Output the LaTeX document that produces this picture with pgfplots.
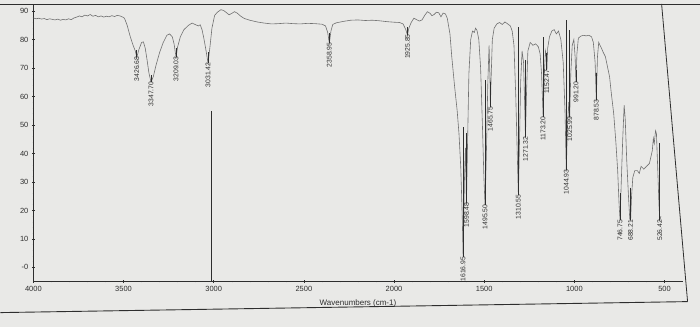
\documentclass[border=0pt]{standalone}
\usepackage{fontspec}
\setmainfont{Liberation Sans}
\usepackage{pgfplots}
\pgfplotsset{compat=1.18}
\definecolor{paper}{HTML}{E9E9E7}
\definecolor{curve}{HTML}{707070}
\definecolor{ink}{HTML}{2E2E2E}
\newcommand{\pk}[3]{%
  \addplot[ink, line width=0.8pt, forget plot] coordinates {(#1,#2) (#1,#3)};
  \node[rotate=90, anchor=east, font=\fontsize{6.8}{8}\selectfont, text=ink, inner sep=1.2pt, xshift=2pt] at (axis cs:#1,#3) {#1};
}
\begin{document}
\begin{tikzpicture}
\begin{axis}[
  set layers,
  scale only axis,
  width=650pt, height=278pt,
  xmin=400, xmax=4000, x dir=reverse,
  ymin=-5, ymax=92.5,
  clip=false,
  axis x line*=bottom, axis y line*=left,
  axis line style={ink, line width=0.6pt, -},
  xtick={4000,3500,3000,2500,2000,1500,1000,500},
  minor x tick num=4,
  ytick={0,10,20,30,40,50,60,70,80,90},
  yticklabels={-0,10,20,30,40,50,60,70,80,90},
  minor y tick num=4,
  tick style={ink, line width=0.5pt},
  major tick length=3pt, minor tick length=1.5pt,
  tick align=center,
  ticklabel style={font=\fontsize{7.5}{9}\selectfont, text=ink},
  /pgf/number format/assume math mode=true,
  /pgf/number format/1000 sep={},
  xlabel={Wavenumbers (cm-1)},
  xlabel style={font=\fontsize{8}{10}\selectfont, text=ink, yshift=-1pt},
]
\begin{pgfonlayer}{axis background}
\fill[paper] (axis description cs:-0.05077,-0.16187) rectangle (axis description cs:1.02615,1.01439);
\end{pgfonlayer}
\draw[ink, line width=0.9pt] (axis description cs:-0.05077,1.0) -- (axis description cs:1.02615,1.0);
\draw[ink, line width=0.9pt] (axis description cs:-0.05077,-0.11151) -- (axis description cs:1.00769,-0.07194);
\draw[ink, line width=0.8pt] (axis description cs:0.96769,1.0) -- (axis description cs:1.00769,-0.07194);
\addplot[curve, line width=0.6pt] coordinates {
(4000,87.6)(3985,87.3)(3970,87.5)(3955,87.2)(3940,87.4)(3925,87.0)(3910,87.3)(3895,87.1)
(3880,86.9)(3865,87.2)(3850,86.8)(3835,87.1)(3820,86.9)(3805,87.3)(3790,87.0)(3775,87.6)
(3760,87.9)(3745,88.3)(3730,88.0)(3715,88.6)(3700,88.3)(3685,88.8)(3670,88.2)(3655,88.5)
(3640,88.0)(3625,88.3)(3610,87.9)(3595,88.2)(3580,88.0)(3565,88.4)(3550,88.1)(3535,88.5)
(3520,88.3)(3505,87.9)(3495,87.5)(3480,85)(3465,81.5)(3450,78.5)(3435,76)(3426.68,73.8)
(3415,76.5)(3400,79)(3390,79.2)(3380,77)(3370,73)(3360,68.5)(3347.70,65)(3335,67)
(3320,71)(3300,75.5)(3280,79)(3260,81.5)(3245,82)(3230,81)(3220,78.5)(3209.03,73.8)
(3200,77.5)(3185,81)(3165,83.5)(3140,85)(3120,85.8)(3100,85.2)(3085,84.8)(3075,85.2)
(3065,83.5)(3055,80.5)(3045,77)(3031.42,71.7)(3020,78)(3010,84)(2995,88.5)(2980,89.6)
(2960,90.5)(2945,90.2)(2930,89.5)(2915,88.7)(2900,89.2)(2885,89.8)(2870,89.3)(2850,88.2)
(2830,87.4)(2800,86.8)(2760,86.2)(2720,85.8)(2680,85.5)(2640,85.6)(2600,85.8)(2560,85.6)
(2520,85.5)(2480,85.7)(2440,85.6)(2400,85.4)(2380,84.8)(2368,82.5)(2358.95,78.7)(2350,83)
(2340,85.3)(2320,85.9)(2280,86.4)(2240,86.8)(2200,86.9)(2160,86.7)(2120,86.8)(2080,86.6)
(2040,86.3)(2000,86.1)(1970,86.0)(1950,85.5)(1935,83.5)(1925.85,81.6)(1918,84)(1905,86)
(1890,87.5)(1875,87.0)(1860,86.5)(1845,86.9)(1830,88.5)(1815,89.8)(1800,89.2)(1790,88.4)
(1778,88.8)(1765,89.6)(1752,89.4)(1740,88.0)(1728,89.3)(1715,89.0)(1705,87.5)(1690,82)
(1680,74)(1665,64)(1650,55)(1640,47)(1630,35)(1622,18)(1616.95,3.5)(1610,30)(1604,42)
(1598.48,22.5)(1592,45)(1585,68)(1575,80)(1565,83)(1555,82.5)(1548,84)(1540,83.2)
(1530,80)(1520,70)(1510,50)(1502,32)(1495.50,21.8)(1488,40)(1480,65)(1473,78)(1468,66)
(1465.75,56.2)(1462,66)(1455,80)(1445,84)(1430,85.5)(1415,86)(1400,85.3)(1385,86.2)
(1370,85.5)(1355,84.8)(1345,83)(1335,78)(1325,60)(1316,38)(1310.55,25.3)(1305,42)
(1298,65)(1290,76)(1282,72)(1276,58)(1271.32,45.7)(1266,60)(1258,76)(1245,79)(1230,78)
(1215,78.5)(1200,77.5)(1190,75)(1182,68)(1173.20,52.7)(1167,68)(1160,76)(1155,74)
(1152.47,69.3)(1148,77)(1138,81)(1125,83)(1112,83.5)(1100,82)(1088,83)(1075,80)(1062,72)
(1052,55)(1044.93,34.1)(1038,50)(1031,58)(1025.99,52.7)(1020,68)(1012,78)(1003,80)
(996,74)(991.20,65)(986,75)(978,80.5)(965,81.2)(950,81.5)(935,81.3)(920,81.5)(905,81)
(895,79)(885,72)(878.53,58.7)(872,74)(865,79)(858,78)(850,77)(840,75.5)(828,74)(815,70)
(805,67)(795,61)(782,54)(770,44)(760,34)(752,22)(746.75,16.5)(740,30)(732,45)(724,57)
(718,52)(710,38)(700,25)(693,17)(688.21,16.5)(683,25)(676,31.6)(665,34)(651,34)(640,33)
(630,35.5)(615,34.5)(600,35.5)(584,36.5)(575,39)(568,41)(562,45.3)(557,43.5)(550,48)
(545,47)(538,35)(531,22)(526.42,16.5)(520,18)
};
\addplot[ink, line width=0.6pt, forget plot] coordinates {(3015,55) (3015,-5)};
\pk{3426.68}{76.3}{73.8}
\pk{3347.70}{67.5}{65}
\pk{3209.03}{77}{73.8}
\pk{3031.42}{75.6}{71.7}
\pk{2358.95}{82.3}{78.7}
\pk{1925.85}{84.4}{81.6}
\pk{1616.95}{49.2}{3.5}
\pk{1598.48}{47.1}{22.5}
\pk{1495.50}{65.7}{21.8}
\pk{1465.75}{65}{56.2}
\pk{1310.55}{84.4}{25.3}
\pk{1271.32}{72.8}{45.7}
\pk{1173.20}{80.9}{52.7}
\pk{1152.47}{75.2}{69.3}
\pk{1044.93}{86.8}{34.1}
\pk{1025.99}{83.3}{52.7}
\pk{991.20}{69.3}{65}
\pk{878.53}{68.2}{58.7}
\pk{746.75}{26}{16.5}
\pk{688.21}{28}{16.5}
\pk{526.42}{43.6}{16.5}
\end{axis}
\end{tikzpicture}
\end{document}
